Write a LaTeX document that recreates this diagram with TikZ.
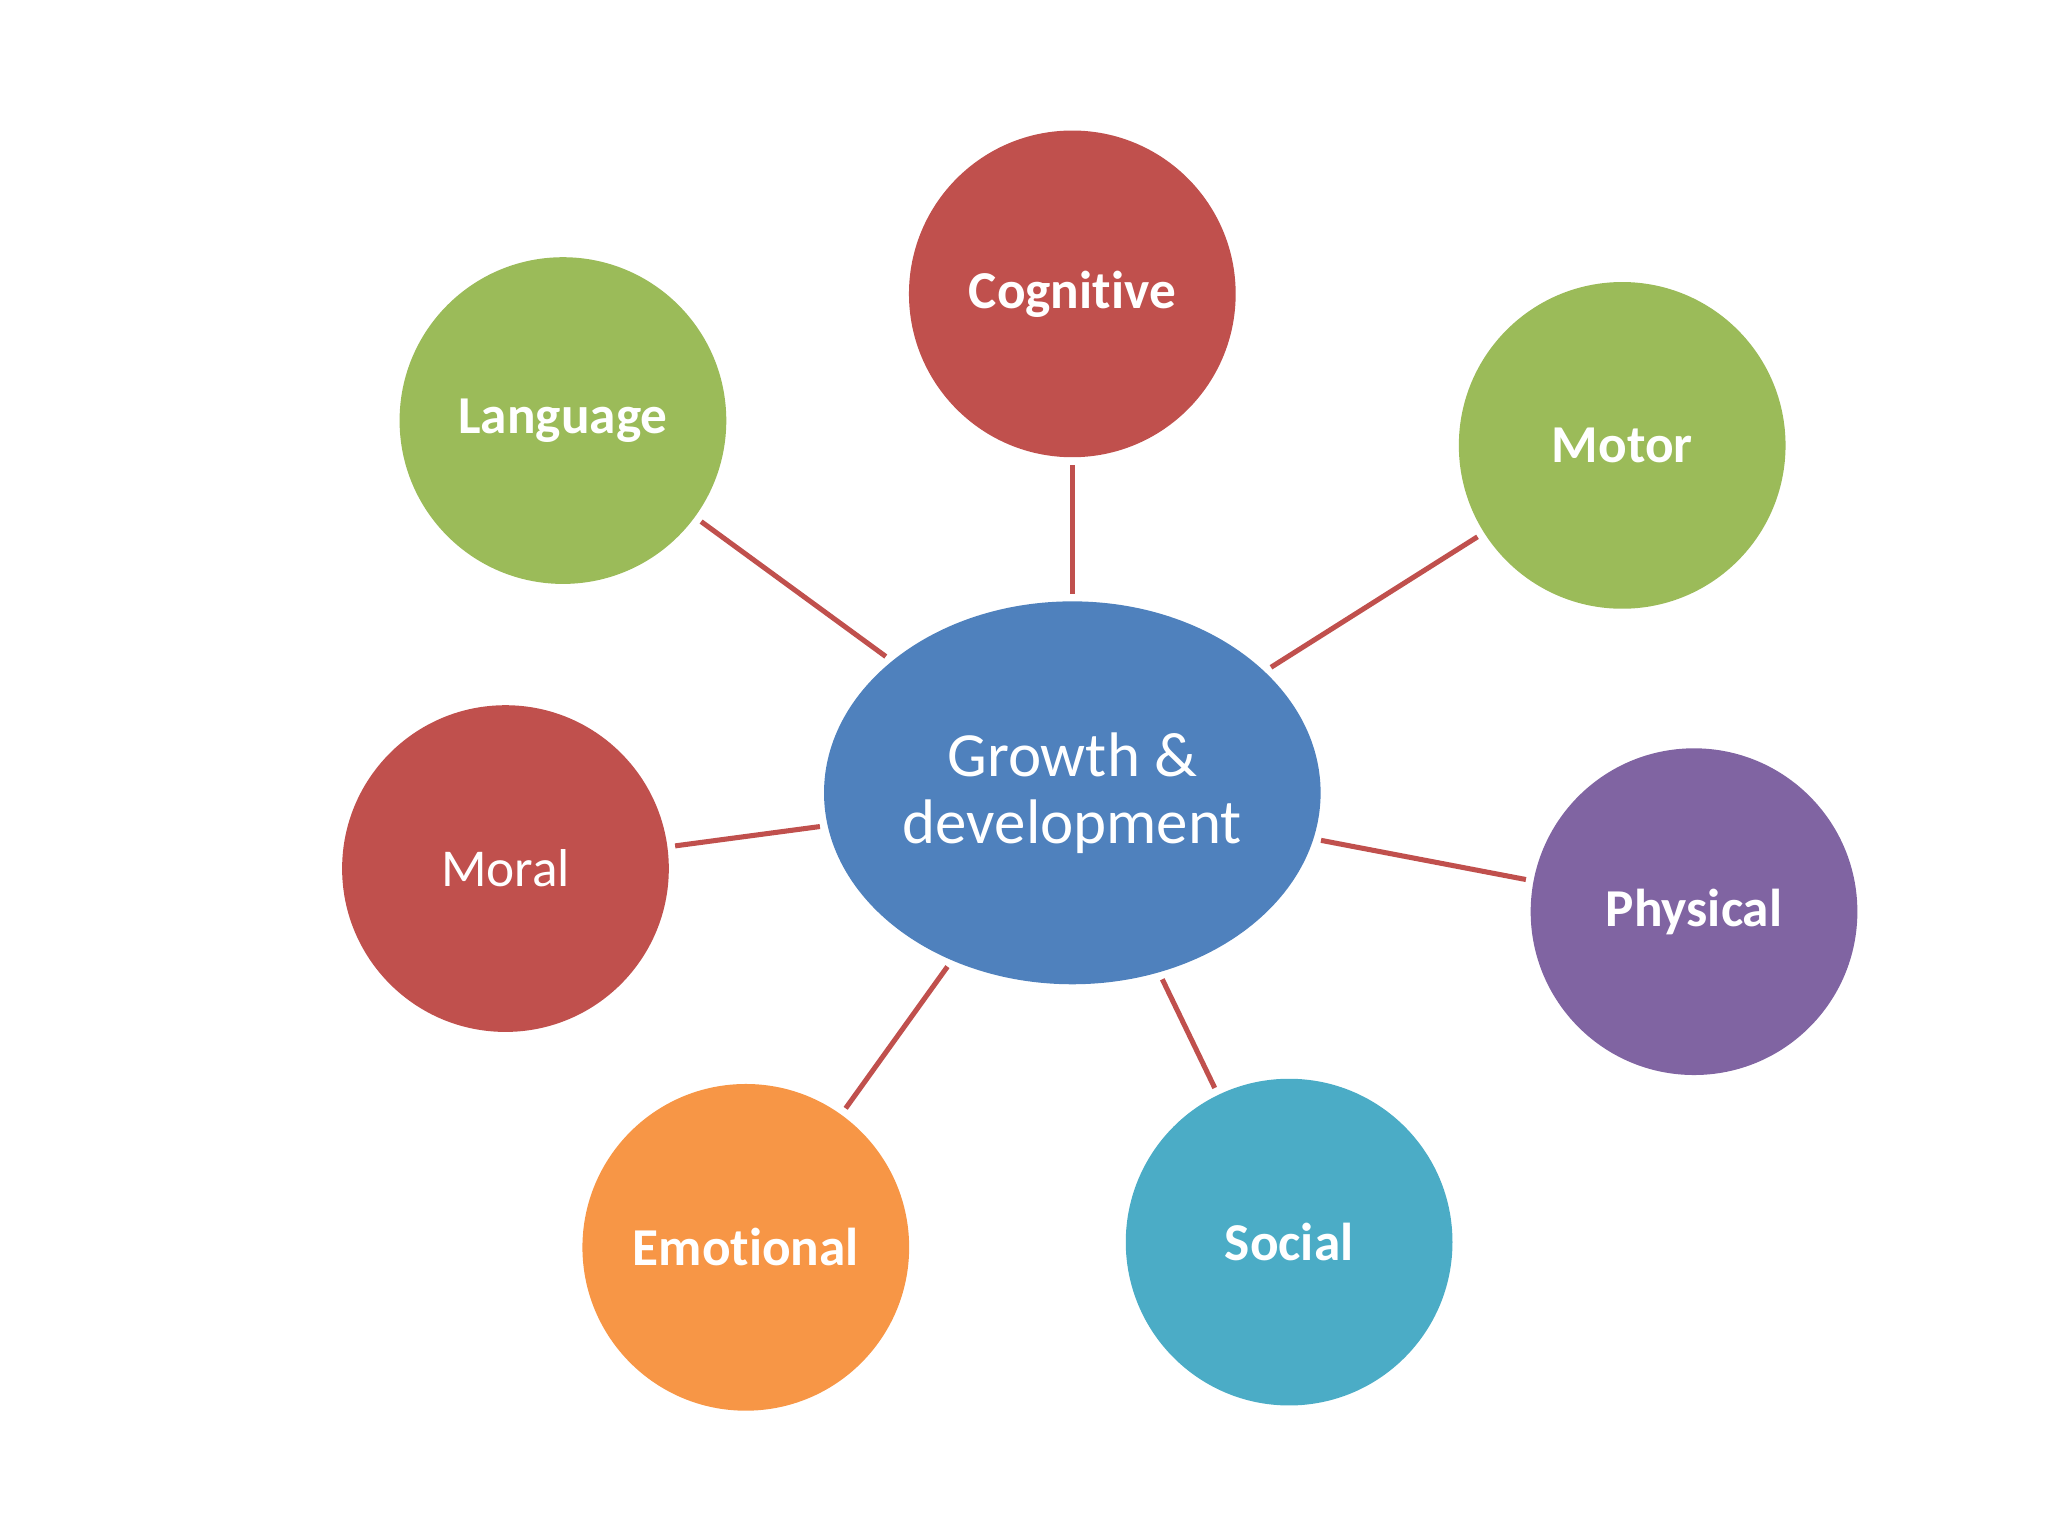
\documentclass[tikz,border=0pt]{standalone}
\usepackage{fontspec}
\setmainfont{Carlito}[Ligatures=NoCommon]
\usepackage{xcolor}
\usepackage{tikz}
\usetikzlibrary{shapes.geometric}

\definecolor{offred}{HTML}{C0504D}
\definecolor{offgreen}{HTML}{9BBB59}
\definecolor{offblue}{HTML}{4F81BD}
\definecolor{offpurple}{HTML}{8064A2}
\definecolor{offaqua}{HTML}{4BACC6}
\definecolor{offorange}{HTML}{F79646}

\begin{document}
\begin{tikzpicture}[x=0.01cm, y=-0.01cm,
    area/.style={circle, minimum size=2.5cm, inner sep=0pt, text=white,
        font=\fontsize{11.6}{14}\selectfont\bfseries},
    link/.style={offred, line width=1.1pt, shorten <=1.5pt, shorten >=1.5pt}]
    % canvas
    \useasboundingbox (0,0) rectangle (1568,1176);

    % centre
    \node[ellipse, fill=offblue, minimum width=3.8cm, minimum height=2.93cm,
        inner sep=0pt, text=white, align=center,
        font=\fontsize{13.7}{14.6}\selectfont] (growth) at (821,607)
        {Growth \&\\development};

    % areas
    \node[area, fill=offred] (cog) at (821,225) {Cognitive};
    \node[area, fill=offgreen] (lang) at (431,322) {Language};
    \node[area, fill=offgreen] (motor) at (1242,341) {Motor};
    \node[area, fill=offred, font=\fontsize{11.6}{14}\selectfont] (moral) at (387,665) {Moral};
    \node[area, fill=offpurple] (phys) at (1297,698) {Physical};
    \node[area, fill=offorange] (emo) at (571,955) {Emotional};
    \node[area, fill=offaqua] (soc) at (987,951) {Social};

    % links
    \foreach \n in {cog,lang,motor,moral,phys,emo,soc} {
        \draw[link] (\n) -- (growth);
    }
\end{tikzpicture}
\end{document}
